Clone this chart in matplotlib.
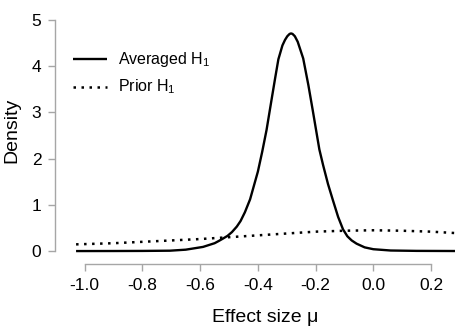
import matplotlib
matplotlib.use("Agg")
import matplotlib.pyplot as plt
from matplotlib.lines import Line2D

plt.rcParams['font.family'] = ['Liberation Sans', 'DejaVu Sans']
plt.rcParams['mathtext.fontset'] = 'custom'
plt.rcParams['mathtext.rm'] = 'Liberation Sans'
plt.rcParams['mathtext.it'] = 'Liberation Sans:italic'

# Averaged H1 posterior density
post_x = [-1.03, -0.90, -0.80, -0.705, -0.65, -0.59, -0.55, -0.535, -0.521, -0.505,
          -0.49, -0.473, -0.46, -0.445, -0.427, -0.40, -0.385, -0.37, -0.352, -0.34,
          -0.329, -0.315, -0.306, -0.298, -0.29, -0.285, -0.28, -0.272, -0.262, -0.243,
          -0.225, -0.21, -0.20, -0.187, -0.174, -0.157, -0.14, -0.122, -0.105, -0.09,
          -0.075, -0.058, -0.03, 0.0, 0.06, 0.15, 0.283]
post_y = [0.0, 0.001, 0.003, 0.008, 0.03, 0.09, 0.17, 0.22, 0.27, 0.33,
          0.41, 0.53, 0.65, 0.84, 1.12, 1.72, 2.15, 2.62, 3.30, 3.75,
          4.15, 4.45, 4.57, 4.65, 4.70, 4.71, 4.70, 4.65, 4.53, 4.17,
          3.59, 3.05, 2.68, 2.20, 1.86, 1.45, 1.10, 0.74, 0.47, 0.32,
          0.23, 0.16, 0.08, 0.04, 0.012, 0.004, 0.001]

# Prior H1 density
prior_x = [-1.03, -0.9, -0.8, -0.7, -0.6, -0.5, -0.4, -0.3, -0.2, -0.1, 0.0, 0.1, 0.2, 0.283]
prior_y = [0.145, 0.17, 0.20, 0.23, 0.26, 0.30, 0.34, 0.38, 0.42, 0.44, 0.45, 0.44, 0.42, 0.39]

x_ticks = [-1.0, -0.8, -0.6, -0.4, -0.2, 0.0, 0.2]
x_tick_labels = ["-1.0", "-0.8", "-0.6", "-0.4", "-0.2", "0.0", "0.2"]
y_ticks = [0, 1, 2, 3, 4, 5]
y_tick_labels = ["0", "1", "2", "3", "4", "5"]
series_labels = [r"Averaged H$_\mathregular{1}$", r"Prior H$_\mathregular{1}$"]
x_label = "Effect size μ"
y_label = "Density"

W, H = 474, 331
fig = plt.figure(figsize=(W / 100, H / 100), dpi=100)
L, R, B, T = 55, 470, 264, 10.8
ax = fig.add_axes([L / W, 1 - B / H, (R - L) / W, (B - T) / H])

grey = '#a6a6a6'
ax.plot(post_x, post_y, color='black', lw=1.7, solid_capstyle='butt', solid_joinstyle='round')
ax.plot(prior_x, prior_y, color='black', lw=1.8, linestyle=(0, (1, 2.2)),
        dash_capstyle='butt')

ax.set_xlim(-1.103, 0.335)
ax.set_ylim(-0.28, 5.2)
for s in ['top', 'right']:
    ax.spines[s].set_visible(False)
ax.spines['left'].set_bounds(0, 5)
ax.spines['bottom'].set_bounds(-1.0, 0.2)
for s in ['left', 'bottom']:
    ax.spines[s].set_color(grey)
    ax.spines[s].set_linewidth(1.0)
ax.set_xticks(x_ticks)
ax.set_xticklabels(x_tick_labels)
ax.set_yticks(y_ticks)
ax.set_yticklabels(y_tick_labels)
ax.tick_params(axis='both', direction='out', length=5.3, width=1.0, color=grey,
               labelsize=12.5, labelcolor='black')
ax.tick_params(axis='x', pad=4.5)
ax.tick_params(axis='y', pad=4.5)

fig.text(265 / W, 1 - 321.7 / H, x_label, ha='center', va='baseline', fontsize=14)
fig.text(12 / W, 1 - 130 / H, y_label, ha='center', va='center', rotation=90, fontsize=14)

# legend
leg_rows = [(59.3, dict(color='black', lw=1.7, solid_capstyle='butt')),
            (86.5, dict(color='black', lw=1.8, linestyle=(0, (1, 2.2)), dash_capstyle='butt'))]
for (py, style), lab in zip(leg_rows, series_labels):
    fig.add_artist(Line2D([73 / W, 107 / W], [1 - py / H, 1 - py / H], **style))
    fig.text(118 / W, 1 - (py + 4.5) / H, lab, ha='left', va='baseline', fontsize=11.5)

fig.savefig("out.png", dpi=100)
